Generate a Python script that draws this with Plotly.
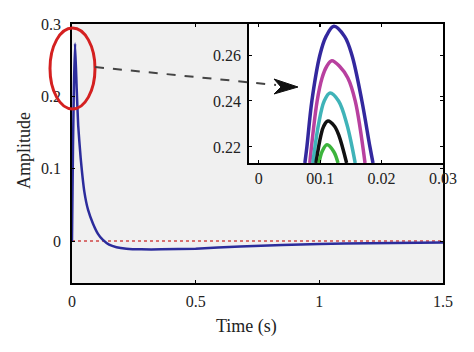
import plotly.graph_objects as go

# ---- main response (Time vs Amplitude) ----
t_main = [0, 0.004, 0.0077, 0.0124, 0.0187, 0.025, 0.035, 0.05, 0.065, 0.085,
          0.105, 0.125, 0.15, 0.18, 0.22, 0.28, 0.36, 0.5, 0.68, 0.85, 1.0, 1.2, 1.5]
amp_main = [0.0, 0.13, 0.213, 0.273, 0.213, 0.16, 0.115, 0.068, 0.043, 0.024,
            0.010, 0.0015, -0.005, -0.0085, -0.0105, -0.0115, -0.0115, -0.0105,
            -0.0075, -0.0055, -0.004, -0.003, -0.002]

ref_t = [0, 1.5]
ref_amp = [0, 0]

# ---- inset (zoom of the peaks) ----
blue_x = [0.0075, 0.00783, 0.00864, 0.00995, 0.01094, 0.01223, 0.01399, 0.01516, 0.01679, 0.0181, 0.0186]
blue_y = [0.213, 0.22, 0.24, 0.26, 0.268, 0.2725, 0.268, 0.26, 0.24, 0.22, 0.213]
mag_x = [0.0083, 0.0095, 0.0103, 0.01105, 0.0119, 0.01318, 0.0145, 0.0157, 0.0173]
mag_y = [0.213, 0.24, 0.25, 0.255, 0.2575, 0.255, 0.25, 0.24, 0.213]
cyan_x = [0.0088, 0.00974, 0.01065, 0.0116, 0.01299, 0.01433, 0.0157]
cyan_y = [0.213, 0.23, 0.24, 0.2435, 0.24, 0.23, 0.213]
black_x = [0.0093, 0.01011, 0.01056, 0.01125, 0.01233, 0.01304, 0.0143]
black_y = [0.213, 0.225, 0.229, 0.2313, 0.229, 0.225, 0.213]
green_x = [0.0098, 0.01031, 0.0111, 0.01219, 0.0129]
green_y = [0.213, 0.218, 0.2209, 0.218, 0.213]

main_xticks = [0, 0.5, 1, 1.5]
main_xticktext = ["0", "0.5", "1", "1.5"]
main_yticks = [0, 0.1, 0.2, 0.3]
main_yticktext = ["0", "0.1", "0.2", "0.3"]
inset_xticks = [0, 0.01, 0.02, 0.03]
inset_xticktext = ["0", "00.1", "0.02", "0.03"]
inset_yticks = [0.22, 0.24, 0.26]
inset_yticktext = ["0.22", "0.24", "0.26"]

W, H = 474, 352
FONT = "Liberation Serif"

fig = go.Figure()

fig.add_trace(go.Scatter(x=ref_t, y=ref_amp, mode="lines",
                         line=dict(color="#d87070", width=2, dash="dot"),
                         xaxis="x", yaxis="y", showlegend=False))
fig.add_trace(go.Scatter(x=t_main, y=amp_main, mode="lines",
                         line=dict(color="#2c2c9c", width=2.5, shape="spline", smoothing=0.4),
                         xaxis="x", yaxis="y", showlegend=False))

series = [(blue_x, blue_y, "#33289e"), (mag_x, mag_y, "#b8409f"),
          (cyan_x, cyan_y, "#3fb3b8"), (black_x, black_y, "#111111"),
          (green_x, green_y, "#3cb43c")]
for xs, ys, col in series:
    fig.add_trace(go.Scatter(x=xs, y=ys, mode="lines",
                             line=dict(color=col, width=3.5, shape="spline", smoothing=1.0),
                             xaxis="x2", yaxis="y2", showlegend=False))

def px(x):
    return x / W

def py(y):
    return 1 - y / H

main_dom_x = [px(72), px(443)]
main_dom_y = [py(283), py(24)]
inset_dom_x = [px(249), px(443)]
inset_dom_y = [py(163), py(24)]

axis_common = dict(showline=True, linecolor="black", linewidth=1.5, mirror="ticks",
                   ticks="inside", ticklen=3, tickcolor="black", showgrid=False,
                   zeroline=False, automargin=False,
                   tickfont=dict(family=FONT, size=16, color="#222"))

fig.update_layout(
    width=W, height=H,
    margin=dict(l=0, r=0, t=0, b=0, pad=0, autoexpand=False),
    paper_bgcolor="white",
    plot_bgcolor="rgba(0,0,0,0)",
    xaxis=dict(domain=main_dom_x, range=[0, 1.5], tickvals=main_xticks,
               ticktext=main_xticktext, anchor="y", ticklabelstandoff=3, **axis_common),
    yaxis=dict(domain=main_dom_y, range=[-0.058, 0.3], tickvals=main_yticks,
               ticktext=main_yticktext, anchor="x", ticklabelstandoff=6, **axis_common),
    xaxis2=dict(domain=inset_dom_x, range=[-0.0016, 0.03], tickvals=inset_xticks,
                ticktext=inset_xticktext, anchor="y2", ticklabelstandoff=0, **axis_common),
    yaxis2=dict(domain=inset_dom_y, range=[0.213, 0.2735], tickvals=inset_yticks,
                ticktext=inset_yticktext, anchor="x2", ticklabelstandoff=3, **axis_common),
    shapes=[
        # gray background of the main plot
        dict(type="rect", xref="paper", yref="paper", x0=main_dom_x[0], x1=main_dom_x[1],
             y0=main_dom_y[0], y1=main_dom_y[1], fillcolor="#f0f0f0",
             line=dict(width=0), layer="below"),
        # white background of the inset
        dict(type="rect", xref="paper", yref="paper", x0=inset_dom_x[0], x1=inset_dom_x[1],
             y0=inset_dom_y[0], y1=inset_dom_y[1], fillcolor="white",
             line=dict(width=0), layer="below"),
        # red ellipse around the peak
        dict(type="circle", xref="paper", yref="paper", x0=px(50), x1=px(95),
             y0=py(109), y1=py(28), line=dict(color="#d42020", width=3)),
        # dashed connector
        dict(type="line", xref="paper", yref="paper", x0=px(95), y0=py(67),
             x1=px(276), y1=py(85), line=dict(color="#444", width=2, dash="dash")),
        # arrow head
        dict(type="path", xref="paper", yref="paper",
             path=f"M {px(274)},{py(79)} L {px(298)},{py(87)} L {px(274)},{py(94)} L {px(281)},{py(87)} Z",
             fillcolor="#111", line=dict(color="#111", width=1)),
    ],
    annotations=[
        dict(text="Time (s)", xref="paper", yref="paper", x=px(247), y=py(326),
             xanchor="center", yanchor="middle",
             showarrow=False, font=dict(family=FONT, size=18, color="#222")),
        dict(text="Amplitude", xref="paper", yref="paper", x=px(24), y=py(151),
             xanchor="center", yanchor="middle",
             showarrow=False, textangle=-90, font=dict(family=FONT, size=18, color="#222")),
    ],
)

fig.write_html("out.html")
